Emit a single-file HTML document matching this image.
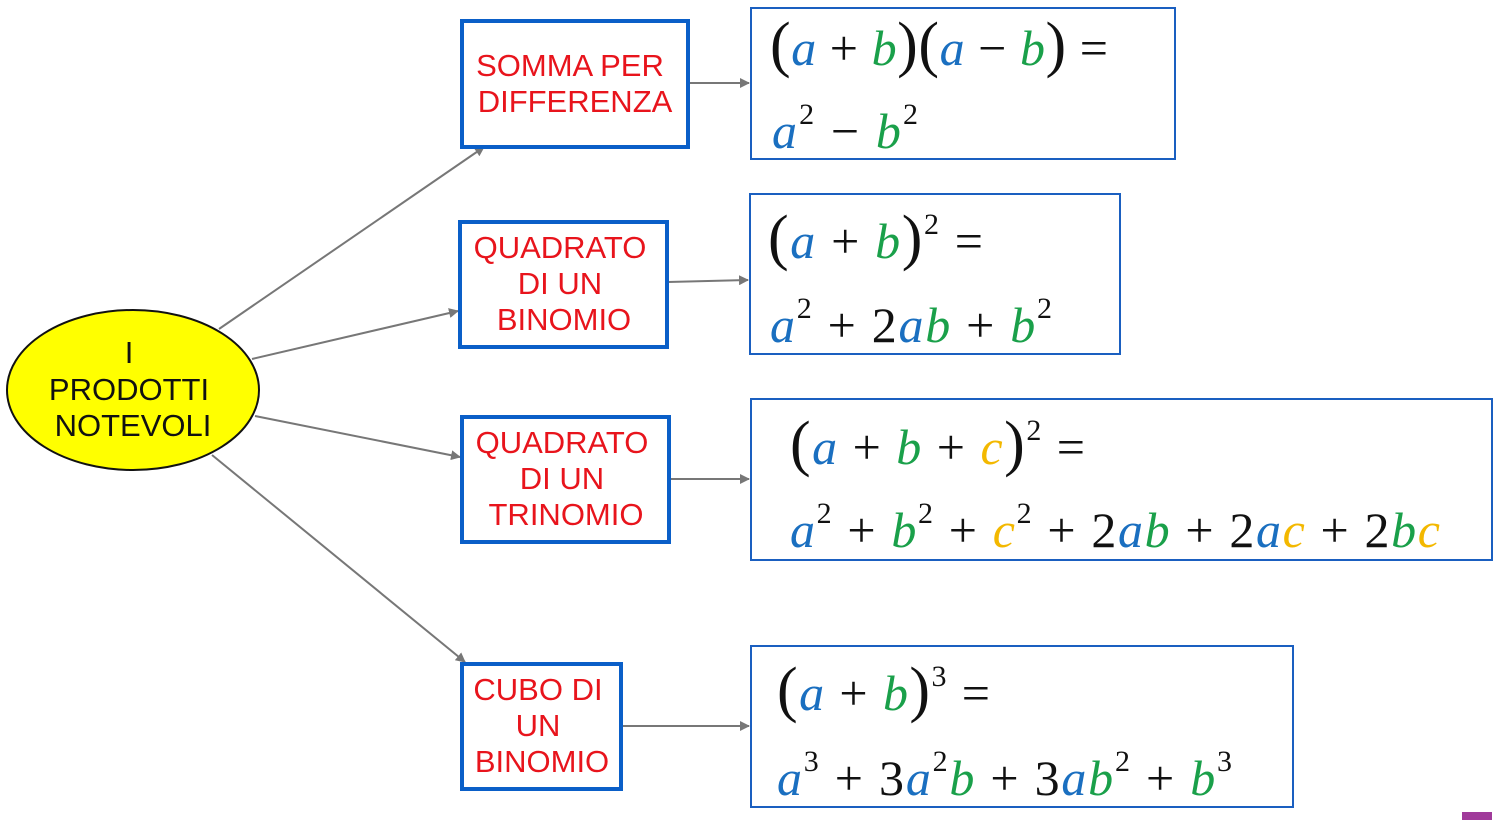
<!DOCTYPE html>
<html><head><meta charset="utf-8"><style>
html,body{margin:0;padding:0;background:#fff;}
svg{display:block;}
.lbl{font-family:"Liberation Sans",sans-serif;font-size:31px;fill:#e8141c;text-anchor:middle;}
.m{font-family:"Liberation Serif",serif;font-size:50px;fill:#111;}
.b{fill:#1a6fc0;font-style:italic;}
.g{fill:#1aa04a;font-style:italic;}
.y{fill:#f3b800;font-style:italic;}
.p{font-size:62px;}
.s{font-size:30px;}
</style></head><body>
<svg width="1500" height="820" viewBox="0 0 1500 820" xmlns="http://www.w3.org/2000/svg">
<defs><marker id="ar" markerWidth="10" markerHeight="10" refX="9" refY="5" orient="auto" markerUnits="userSpaceOnUse"><path d="M0,0 L10,5 L0,10 z" fill="#777"/></marker></defs>
<g stroke="#777" stroke-width="2" fill="none" marker-end="url(#ar)">
<line x1="219" y1="329" x2="484" y2="147"/>
<line x1="252" y1="359" x2="458" y2="311"/>
<line x1="255" y1="416" x2="460" y2="457"/>
<line x1="212" y1="455" x2="465" y2="662"/>
<line x1="690" y1="83" x2="749" y2="83"/>
<line x1="668" y1="282" x2="748" y2="280"/>
<line x1="670" y1="479" x2="749" y2="479"/>
<line x1="622" y1="726" x2="749" y2="726"/>
</g>
<ellipse cx="133" cy="390" rx="126" ry="80" fill="#ffff00" stroke="#111" stroke-width="2"/>
<text font-family="Liberation Sans,sans-serif" font-size="31" text-anchor="middle" fill="#111"><tspan x="129" y="363">I</tspan><tspan x="129" y="400">PRODOTTI</tspan><tspan x="133" y="436">NOTEVOLI</tspan></text>
<g fill="#fff" stroke="#0a5fc8" stroke-width="4">
<rect x="462" y="21" width="226" height="126"/>
<rect x="460" y="222" width="207" height="125"/>
<rect x="462" y="417" width="207" height="125"/>
<rect x="462" y="664" width="159" height="125"/>
</g>
<text class="lbl"><tspan x="570" y="76">SOMMA PER</tspan><tspan x="575" y="112">DIFFERENZA</tspan></text>
<text class="lbl"><tspan x="560" y="258">QUADRATO</tspan><tspan x="560" y="294">DI UN</tspan><tspan x="564" y="330">BINOMIO</tspan></text>
<text class="lbl"><tspan x="562" y="453">QUADRATO</tspan><tspan x="562" y="489">DI UN</tspan><tspan x="566" y="525">TRINOMIO</tspan></text>
<text class="lbl"><tspan x="538" y="700">CUBO DI</tspan><tspan x="538" y="736">UN</tspan><tspan x="542" y="772">BINOMIO</tspan></text>
<g fill="#fff" stroke="#1a5fc0" stroke-width="2">
<rect x="751" y="8" width="424" height="151"/>
<rect x="750" y="194" width="370" height="160"/>
<rect x="751" y="399" width="741" height="161"/>
<rect x="751" y="646" width="542" height="161"/>
</g>
<text class="m" x="770" y="65" textLength="338" lengthAdjust="spacing"><tspan class="p">(</tspan><tspan class="b">a</tspan> + <tspan class="g">b</tspan><tspan class="p">)(</tspan><tspan class="b">a</tspan> − <tspan class="g">b</tspan><tspan class="p">)</tspan> =</text>
<text class="m" x="772" y="148" textLength="146" lengthAdjust="spacing"><tspan class="b">a</tspan><tspan class="s" dy="-24">2</tspan><tspan dy="24"> − </tspan><tspan class="g">b</tspan><tspan class="s" dy="-24">2</tspan></text>
<text class="m" x="768" y="258" textLength="215" lengthAdjust="spacing"><tspan class="p">(</tspan><tspan class="b">a</tspan> + <tspan class="g">b</tspan><tspan class="p">)</tspan><tspan class="s" dy="-24">2</tspan><tspan dy="24"> =</tspan></text>
<text class="m" x="770" y="342" textLength="282" lengthAdjust="spacing"><tspan class="b">a</tspan><tspan class="s" dy="-24">2</tspan><tspan dy="24"> + 2</tspan><tspan class="b">a</tspan><tspan class="g">b</tspan> + <tspan class="g">b</tspan><tspan class="s" dy="-24">2</tspan></text>
<text class="m" x="790" y="464" textLength="295" lengthAdjust="spacing"><tspan class="p">(</tspan><tspan class="b">a</tspan> + <tspan class="g">b</tspan> + <tspan class="y">c</tspan><tspan class="p">)</tspan><tspan class="s" dy="-24">2</tspan><tspan dy="24"> =</tspan></text>
<text class="m" x="790" y="547" textLength="650" lengthAdjust="spacing"><tspan class="b">a</tspan><tspan class="s" dy="-24">2</tspan><tspan dy="24"> + </tspan><tspan class="g">b</tspan><tspan class="s" dy="-24">2</tspan><tspan dy="24"> + </tspan><tspan class="y">c</tspan><tspan class="s" dy="-24">2</tspan><tspan dy="24"> + 2</tspan><tspan class="b">a</tspan><tspan class="g">b</tspan> + 2<tspan class="b">a</tspan><tspan class="y">c</tspan> + 2<tspan class="g">b</tspan><tspan class="y">c</tspan></text>
<text class="m" x="777" y="710" textLength="213" lengthAdjust="spacing"><tspan class="p">(</tspan><tspan class="b">a</tspan> + <tspan class="g">b</tspan><tspan class="p">)</tspan><tspan class="s" dy="-24">3</tspan><tspan dy="24"> =</tspan></text>
<text class="m" x="777" y="795" textLength="455" lengthAdjust="spacing"><tspan class="b">a</tspan><tspan class="s" dy="-24">3</tspan><tspan dy="24"> + 3</tspan><tspan class="b">a</tspan><tspan class="s" dy="-24">2</tspan><tspan class="g" dy="24">b</tspan> + 3<tspan class="b">a</tspan><tspan class="g">b</tspan><tspan class="s" dy="-24">2</tspan><tspan dy="24"> + </tspan><tspan class="g">b</tspan><tspan class="s" dy="-24">3</tspan></text>
<rect x="1462" y="812" width="30" height="8" fill="#a03a9a"/>
</svg>
</body></html>
